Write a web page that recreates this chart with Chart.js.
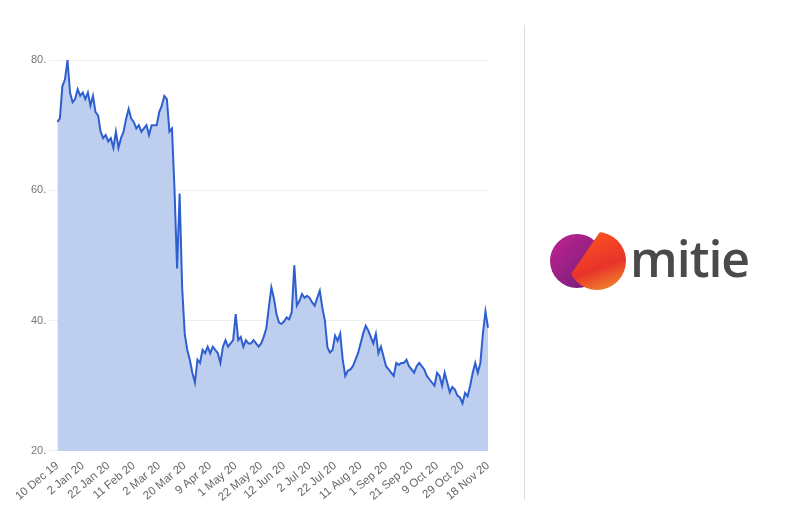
<!DOCTYPE html><html><head><meta charset="utf-8">
<script src="https://cdn.jsdelivr.net/npm/chart.js@4"></script>
<style>
body{margin:0;width:790px;height:527px;background:#fff;font-family:Roboto,Arial,sans-serif;position:relative;overflow:hidden}
#wrap{position:absolute;left:0;top:0;width:505px;height:527px}
#sep{position:absolute;left:524px;top:25px;width:1px;height:475px;background:#ddd}
#logo{position:absolute;left:548px;top:228px;width:230px;height:62px}
#logo .c1{position:absolute;left:2px;top:6px;width:54px;height:54px;border-radius:50%;background:linear-gradient(135deg,#c2248f,#6a1d7a)}
#logo .c2{position:absolute;left:20px;top:4px;width:58px;height:58px;border-radius:50%;background:linear-gradient(160deg,#ff5a1f,#e8332a 60%,#f39a2b);clip-path:polygon(55% 0,100% 0,100% 100%,0 100%,0 80%)}
#logo span{position:absolute;left:82px;top:-4px;font:600 50px "Open Sans",sans-serif;color:#4a4a4a;letter-spacing:-1px}
</style></head><body>
<div id="wrap"><canvas id="c"></canvas></div>
<div id="sep"></div>
<div id="logo"><div class="c1"></div><div class="c2"></div><span>mitie</span></div>
<script>
const prices=[70.5,71,76,77,80,75,73.5,74,75.5,74.5,75,74,75,73,74.5,72,71.5,69,68,68.5,67.5,68,66.5,69,66.5,68,69,71,72.5,71,70.5,69.5,70,69,69.5,70,68.5,70,70,70,72,73,74.5,74,69,69.5,60,48,59.5,45,38,35.5,34,32,30.5,34,33.5,35.5,35,36,35,36,35.5,35,33.5,36,37,36,36.5,37,41,37,37.5,36,37,36.5,36.5,37,
36.5,36,36.5,37.5,38.8,42,45.1,43.4,41,39.7,39.5,39.9,40.5,40.2,41.3,48.5,42.3,43,44.1,43.5,43.8,43.5,42.8,42.3,43.5,44.6,42,40,35.9,35.1,35.5,37.7,36.9,38,34,31.5,32.3,32.5,33,34,35,36.5,38,39.2,38.5,37.5,36.5,38,35,36,34.5,33,32.5,32,31.5,33.5,33.2,33.5,33.5,34,33,32.5,32,33,33.5,33,32.5,31.5,31,30.5,30,32,31.5,30,32,30.5,29,29.8,29.4,28.5,28.2,27.3,28.9,28.4,30,32,33.5,32,33.5,38,41.4,38.9];
const tickLabels=["10 Dec 19","2 Jan 20","22 Jan 20","11 Feb 20","2 Mar 20","20 Mar 20","9 Apr 20","1 May 20","22 May 20","12 Jun 20","2 Jul 20","22 Jul 20","11 Aug 20","1 Sep 20","21 Sep 20","9 Oct 20","29 Oct 20","18 Nov 20"];
const yTicks=[20,40,60,80];
const N=prices.length;
const labels=prices.map((v,i)=>{const k=Math.round(i*(tickLabels.length-1)/(N-1));return Math.round(k*(N-1)/(tickLabels.length-1))===i?tickLabels[k]:"";});
new Chart(document.getElementById('c'),{type:'line',
data:{labels,datasets:[{data:prices,borderColor:'#2f5fcf',borderWidth:2,backgroundColor:'rgba(190,206,238,1)',fill:'start',pointRadius:0,tension:0}]},
options:{responsive:true,maintainAspectRatio:false,animation:false,
layout:{padding:{left:28,top:60,right:17,bottom:23}},
plugins:{legend:{display:false},tooltip:{enabled:false}},
scales:{
x:{grid:{display:false},border:{display:false},ticks:{autoSkip:false,maxRotation:40,minRotation:40,color:'#666',font:{size:11.5},padding:0,callback:(v,i)=>labels[i]}},
y:{min:20,max:80,afterBuildTicks:s=>{s.ticks=yTicks.map(v=>({value:v}));},border:{display:false},grid:{color:'#eee'},ticks:{color:'#777',font:{size:11},callback:v=>v+'.'}}
}}});
</script></body></html>
